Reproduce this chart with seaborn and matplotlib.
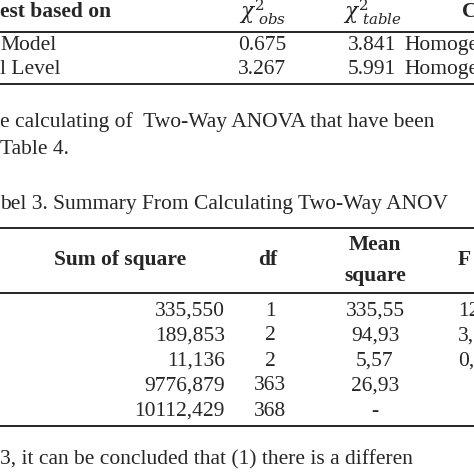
import matplotlib
matplotlib.use("Agg")
import matplotlib.pyplot as plt
import seaborn as sns

sns.set_theme(style="white")
plt.rcParams['font.family'] = ['Liberation Serif', 'DejaVu Serif']
plt.rcParams['mathtext.fontset'] = 'dejavuserif'

top_labels = ["Model", "l Level"]
chi_obs = ["0.675", "3.267"]
chi_table = ["3.841", "5.991"]
concl = ["Homoge", "Homoge"]

sum_sq = ["335,550", "189,853", "11,136", "9776,879", "10112,429"]
dfs = ["1", "2", "2", "363", "368"]
mean_sq = ["335,55", "94,93", "5,57", "26,93", "-"]
f_vals = ["12", "3,", "0,", "", ""]

W = H = 474
fig = plt.figure(figsize=(4.74, 4.74), dpi=100)
fig.patch.set_facecolor("white")
ax = fig.add_axes([0, 0, 1, 1])
ax.set_xlim(0, W); ax.set_ylim(H, 0); ax.axis("off")

fs = 15.5
def t(x, y, s, ha="left", weight="normal", size=fs):
    ax.text(x, y, s, ha=ha, va="center", fontsize=size, weight=weight, clip_on=True)

# top table
t(0, 12, "est based on", weight="bold")
t(262, 12, r"$\chi^2_{\ obs}$", ha="center", weight="bold")
t(372, 12, r"$\chi^2_{\ table}$", ha="center", weight="bold")
t(462, 12, "C", weight="bold")
ax.plot([0, W], [32, 32], color="black", lw=1.2)
for i, lab in enumerate(top_labels):
    y = 45 + i * 24
    t(0, y, lab)
    t(262, y, chi_obs[i], ha="center")
    t(372, y, chi_table[i], ha="center")
    t(404, y, concl[i])
ax.plot([0, W], [84, 84], color="black", lw=1.2)

t(0, 122, "e calculating of  Two-Way ANOVA that have been")
t(0, 150, "Table 4.")
t(0, 205, "bel 3. Summary From Calculating Two-Way ANOV")

ax.plot([0, W], [228, 228], color="black", lw=1.2)
t(120, 260, "Sum of square", ha="center", weight="bold")
t(268, 260, "df", ha="center", weight="bold")
t(375, 245, "Mean", ha="center", weight="bold")
t(375, 276, "square", ha="center", weight="bold")
t(458, 260, "F", weight="bold")
ax.plot([0, W], [293, 293], color="black", lw=1.2)
for i in range(len(sum_sq)):
    y = 311 + i * 25
    t(225, y, sum_sq[i], ha="right")
    t(270, y, dfs[i], ha="center")
    t(375, y, mean_sq[i], ha="center")
    t(458, y, f_vals[i])
ax.plot([0, W], [426, 426], color="black", lw=1.2)

t(0, 460, "3, it can be concluded that (1) there is a differen")

fig.savefig("out.png", dpi=100, facecolor="white")
